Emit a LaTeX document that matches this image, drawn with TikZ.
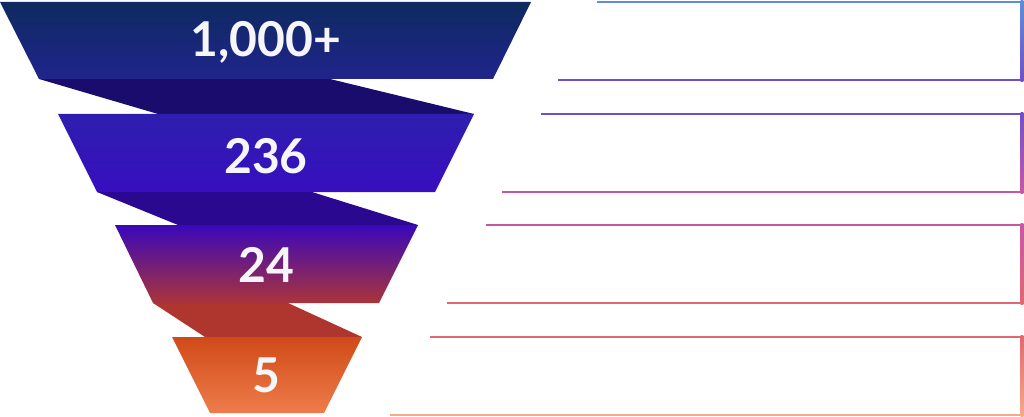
\documentclass[tikz,border=0pt]{standalone}
\usepackage{fontspec}
\setmainfont{Lato}
\usetikzlibrary{positioning}

% --- funnel colours ---
\definecolor{lvlAtop}{RGB}{14,42,96}
\definecolor{lvlAbot}{RGB}{32,36,140}
\definecolor{lvlBtop}{RGB}{46,30,174}
\definecolor{lvlBbot}{RGB}{56,14,192}
\definecolor{lvlCtop}{RGB}{58,8,186}
\definecolor{lvlCbot}{RGB}{170,52,58}
\definecolor{lvlDtop}{RGB}{208,74,24}
\definecolor{lvlDbot}{RGB}{238,124,74}
\definecolor{twistA}{RGB}{26,12,108}
\definecolor{twistB}{RGB}{42,8,144}
\definecolor{twistC}{RGB}{174,54,46}
\definecolor{countText}{RGB}{246,246,250}
% --- outline colours ---
\definecolor{railA}{RGB}{96,140,216}
\definecolor{railB}{RGB}{112,80,200}
\definecolor{railC}{RGB}{200,86,166}
\definecolor{railD}{RGB}{226,104,112}
\definecolor{railE}{RGB}{246,170,136}

\begin{document}
\begin{tikzpicture}[
    x=1pt, y=-1pt,
    % --- Funnel styles ---
    twist/.style={fill=#1},
    count/.style={text=countText, font=\fontsize{48}{56}\selectfont\bfseries,
                  anchor=base, inner sep=0pt},
    % --- Outline styles ---
    rail/.style={line width=2.6pt, line cap=butt},
]
\useasboundingbox (0,0) rectangle (1024,417);

% === Twists between the levels ===
\fill[twist=twistA] (39,79) -- (330,79) -- (474,114) -- (158,114) -- cycle;
\fill[twist=twistB] (97,192) -- (312,192) -- (418,225) -- (178,225) -- cycle;
\fill[twist=twistC] (153,303) -- (288,303) -- (362,337) -- (205,337) -- cycle;

% === Funnel levels ===
\shade[top color=lvlAtop, bottom color=lvlAbot]
  (0,2) -- (531,2) -- (493,79) -- (39,79) -- cycle;
\shade[top color=lvlBtop, bottom color=lvlBbot]
  (58,114) -- (474,114) -- (435,192) -- (97,192) -- cycle;
\shade[top color=lvlCtop, bottom color=lvlCbot]
  (115,225) -- (418,225) -- (379,303) -- (153,303) -- cycle;
\shade[top color=lvlDtop, bottom color=lvlDbot]
  (172,337) -- (362,337) -- (324,413) -- (210,413) -- cycle;

% === Counts ===
\node[count] (all)      at (266,57)  {1,000+};
\node[count] (screened) at (266,173) {236};
\node[count] (shortlist) at (266,282) {24};
\node[count] (picked)   at (266,392) {5};

% === Outlines on the right ===
% box 1
\draw[rail, railA] (597,2) -- (1022,2);
\shade[top color=railA, bottom color=railB] (1020.7,0.7) rectangle (1023.3,81.3);
\draw[rail, railB] (1022,80) -- (558,80);
% box 2
\draw[rail, railB] (541,114) -- (1022,114);
\shade[top color=railB, bottom color=railC] (1020.7,112.7) rectangle (1023.3,193.3);
\draw[rail, railC] (1022,192) -- (502,192);
% box 3
\draw[rail, railC] (486,225) -- (1022,225);
\shade[top color=railC, bottom color=railD] (1020.7,223.7) rectangle (1023.3,304.3);
\draw[rail, railD] (1022,303) -- (447,303);
% box 4
\draw[rail, railD] (430,337) -- (1022,337);
\shade[top color=railD, bottom color=railE] (1020.7,335.7) rectangle (1023.3,416.3);
\draw[rail, railE] (1022,415) -- (390,415);

\end{tikzpicture}
\end{document}
